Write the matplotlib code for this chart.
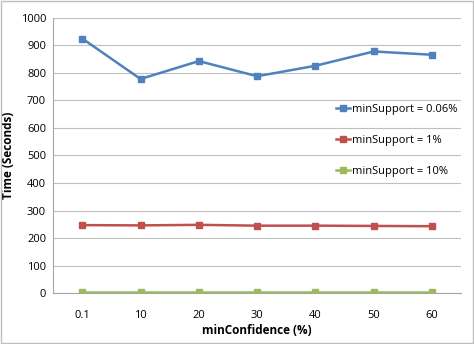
import matplotlib.pyplot as plt
import numpy as np

categories = ["0.1", "10", "20", "30", "40", "50", "60"]
support_006 = [925, 778, 843, 788, 826, 878, 866]
support_1 = [247, 246, 248, 245, 245, 244, 243]
support_10 = [5, 5, 5, 5, 5, 5, 5]

plt.rcParams['font.family'] = ['Open Sans', 'DejaVu Sans']

fig = plt.figure(figsize=(4.74, 3.44), dpi=100)
ax = fig.add_axes([0.112, 0.148, 0.861, 0.80])

x = np.arange(len(categories))
series = [
    (support_006, "#4F81BD", "minSupport = 0.06%"),
    (support_1, "#C0504D", "minSupport = 1%"),
    (support_10, "#9BBB59", "minSupport = 10%"),
]
for vals, color, label in series:
    ax.plot(x, vals, color=color, lw=1.8, marker='s', markersize=5, label=label)

ax.set_xlim(-0.5, len(categories) - 0.5)
ax.set_ylim(0, 1000)
ax.set_yticks(range(0, 1001, 100))
ax.set_xticks(x)
ax.set_xticklabels(categories)
ax.tick_params(axis='both', labelsize=8, length=0, pad=5)
ax.tick_params(axis='x', pad=12)
ax.grid(axis='y', color='#BFBFBF', lw=0.8)
ax.set_axisbelow(True)
for s in ['top', 'right']:
    ax.spines[s].set_visible(False)
for s in ['left', 'bottom']:
    ax.spines[s].set_color('#A6A6A6')
    ax.spines[s].set_linewidth(0.8)

ax.set_xlabel("minConfidence (%)", fontsize=8.5, fontweight='bold', labelpad=2)
ax.set_ylabel("Time (Seconds)", fontsize=8.5, fontweight='bold', labelpad=4)

ax.legend(loc='upper left', bbox_to_anchor=(0.683, 0.705), frameon=False,
          fontsize=8, handlelength=1.2, handletextpad=0.2, labelspacing=1.82,
          borderaxespad=0)

fig.patches.append(plt.Rectangle((0.002, 0.002), 0.996, 0.996, transform=fig.transFigure,
                                 fill=False, edgecolor='#BFBFBF', lw=1))

plt.savefig("out.png", dpi=100)
plt.close()
